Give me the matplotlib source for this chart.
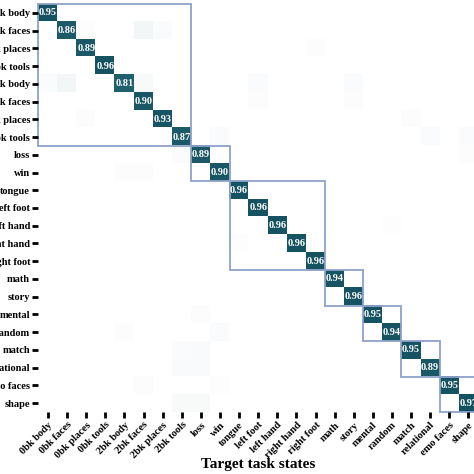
import matplotlib
matplotlib.use("Agg")
import matplotlib.pyplot as plt
from matplotlib.colors import LinearSegmentedColormap
from matplotlib.patches import Rectangle
import numpy as np

"""Task states"""
states = ['0bk body', '0bk faces', '0bk places', '0bk tools',
          '2bk body', '2bk faces', '2bk places', '2bk tools',
          'loss', 'win',
          'tongue', 'left foot', 'left hand', 'right hand', 'right foot',
          'math', 'story',
          'mental', 'random',
          'match', 'relational',
          'emo faces', 'shape']
group_sizes = [8, 2, 5, 2, 2, 2, 2]

"""Diagonal accuracies"""
diag_acc = [0.95, 0.86, 0.89, 0.96, 0.81, 0.90, 0.93, 0.87,
            0.89, 0.90,
            0.96, 0.96, 0.96, 0.96, 0.96,
            0.94, 0.96,
            0.95, 0.94,
            0.95, 0.89,
            0.95, 0.97]

"""Faint off-diagonal confusions (row, col, value)"""
off_diag = [(1, 5, 0.05), (1, 6, 0.02), (1, 2, 0.01),
            (4, 0, 0.02), (4, 1, 0.05), (4, 5, 0.03), (4, 11, 0.02),
            (5, 11, 0.015), (6, 2, 0.015), (7, 9, 0.02), (8, 7, 0.02),
            (9, 4, 0.015), (9, 5, 0.015),
            (2, 14, 0.015), (4, 16, 0.02), (5, 16, 0.015),
            (6, 19, 0.015), (7, 20, 0.02), (7, 22, 0.02), (8, 22, 0.015),
            (12, 18, 0.01), (13, 10, 0.01),
            (17, 8, 0.015), (18, 4, 0.015), (18, 9, 0.02),
            (19, 7, 0.02), (19, 8, 0.025), (20, 7, 0.025), (20, 8, 0.025),
            (21, 5, 0.015), (22, 7, 0.03), (22, 8, 0.03), (21, 9, 0.01)]

n = len(states)
conf = np.zeros((n, n))
for i, v in enumerate(diag_acc):
    conf[i, i] = v
for r, c, v in off_diag:
    conf[r, c] = v

cmap = LinearSegmentedColormap.from_list(
    'teal', [(0, '#ffffff'), (0.1, '#e6edf0'), (0.5, '#3f7888'),
             (0.85, '#1d5c6b'), (1, '#14505f')])

plt.rcParams['font.family'] = ['Liberation Serif', 'DejaVu Serif']
plt.rcParams['font.weight'] = 'bold'

fig = plt.figure(figsize=(4.74, 4.74), dpi=100)
ax = fig.add_axes([0.0812, 0.1308, 0.927, 0.8608])
ax.imshow(conf, cmap=cmap, vmin=0, vmax=1.0, aspect='auto', interpolation='nearest')

for i, v in enumerate(diag_acc):
    ax.text(i, i, '%.2f' % v, ha='center', va='center', color='white',
            fontsize=7.5, fontweight='bold')

start = 0
for g in group_sizes:
    ax.add_patch(Rectangle((start - 0.5, start - 0.5), g, g, fill=False,
                           edgecolor='#8ea3c9', linewidth=1.3, clip_on=False))
    start += g

for s in ax.spines.values():
    s.set_visible(False)

ax.set_xticks(range(n))
ax.set_yticks(range(n))
ax.set_xticklabels(states, rotation=45, ha='right', rotation_mode='anchor',
                   fontsize=7.5, fontweight='bold')
ax.set_yticklabels(states, fontsize=7.5, fontweight='bold')
ax.tick_params(axis='both', length=4, width=2, color='black', pad=2)
ax.set_xlim(-0.5, n - 0.5)
ax.set_ylim(n - 0.5, -0.5)
ax.set_xlabel('Target task states', fontsize=11, fontweight='bold')
ax.xaxis.set_label_coords(0.5, -0.113)

fig.savefig('out.png', dpi=100)
